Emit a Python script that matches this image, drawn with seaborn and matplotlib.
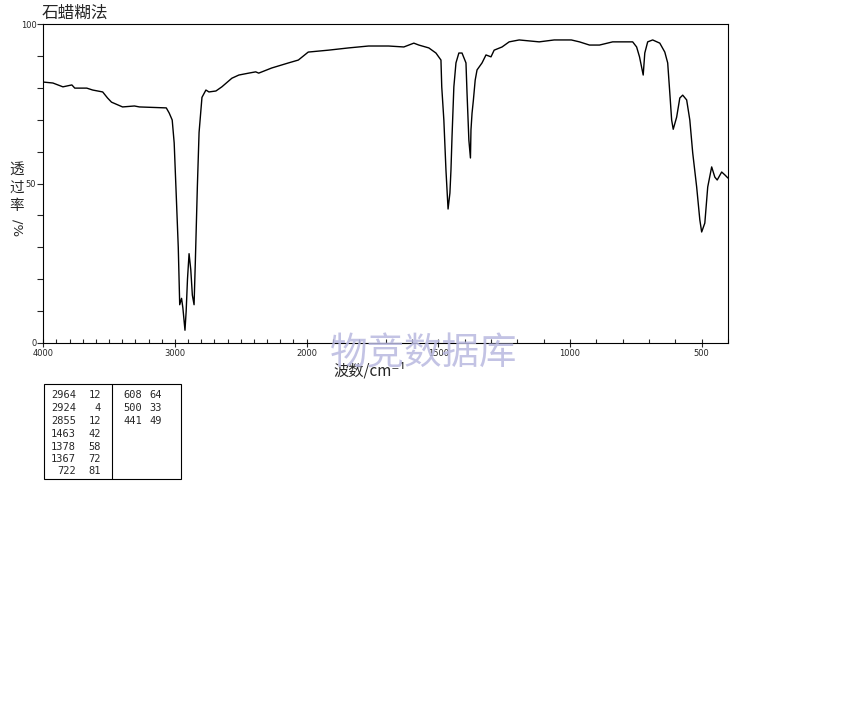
import numpy as np
import pandas as pd
import seaborn as sns
from matplotlib import pyplot as plt
from matplotlib.patches import Rectangle
from matplotlib.lines import Line2D
from matplotlib.ticker import FixedLocator, NullFormatter

# IR spectrum (paraffin mull)
wavenumber = [4000, 3927, 3851, 3783, 3761, 3670, 3625, 3549, 3512, 3482,
              3398, 3308, 3270, 3066, 3044, 3021, 3006, 2991, 2975, 2964,
              2950, 2940, 2924, 2915, 2905, 2893, 2880, 2868, 2855, 2845,
              2830, 2817, 2795, 2765, 2742, 2689, 2644, 2568, 2515, 2440,
              2387, 2364, 2266, 2138, 2063, 1994, 1917, 1841, 1765, 1689,
              1631, 1593, 1574, 1536, 1509, 1490, 1487, 1479, 1471, 1463,
              1456, 1452, 1448, 1441, 1433, 1422, 1410, 1395, 1391, 1384,
              1378, 1376, 1372, 1367, 1360, 1353, 1334, 1319, 1300, 1288,
              1258, 1231, 1193, 1117, 1060, 995, 964, 926, 888, 838,
              762, 747, 736, 722, 716, 705, 686, 659, 640, 629,
              621, 614, 608, 595, 583, 572, 557, 545, 534, 519,
              507, 500, 488, 477, 462, 450, 441, 424, 412, 400]
transmittance = [81.8, 81.5, 80.3, 80.9, 79.9, 79.9, 79.3, 78.7, 76.8, 75.5,
                 74.0, 74.3, 74.0, 73.7, 72.1, 69.9, 62.7, 47.0, 30.0, 12.0,
                 14.0, 11.0, 4.0, 10.0, 20.0, 28.0, 23.0, 15.0, 12.0, 26.0,
                 49.0, 66.0, 77.0, 79.3, 78.7, 79.0, 80.3, 83.0, 84.0, 84.6,
                 85.0, 84.6, 86.2, 87.8, 88.7, 91.2, 91.8, 92.5, 93.1, 93.1,
                 92.8, 94.0, 93.4, 92.5, 90.9, 88.7, 80.3, 69.9, 54.2, 42.0,
                 47.0, 54.2, 64.6, 80.3, 87.8, 90.9, 90.9, 87.8, 78.4, 63.6,
                 58.0, 66.8, 72.0, 76.0, 82.4, 85.6, 87.8, 90.3, 89.7, 91.8,
                 92.8, 94.4, 95.0, 94.4, 95.0, 95.0, 94.4, 93.4, 93.4, 94.4,
                 94.4, 92.8, 89.7, 84.0, 90.9, 94.4, 95.0, 94.0, 91.2, 87.8,
                 78.4, 69.9, 67.0, 70.8, 76.8, 77.7, 76.2, 69.9, 59.6, 48.9,
                 38.6, 34.8, 37.6, 48.9, 55.2, 52.0, 51.1, 53.6, 52.7, 51.7]

# peak table
peak_wn_left = ['2964', '2924', '2855', '1463', '1378', '1367', '722']
peak_t_left = ['12', '4', '12', '42', '58', '72', '81']
peak_wn_right = ['608', '500', '441']
peak_t_right = ['64', '33', '49']

title = '石蜡糊法'
x_label = '波数/cm⁻¹'
watermark = '物竞数据库'

x_major = [4000, 3000, 2000, 1500, 1000, 500]
y_major = [0, 50, 100]

W, H = 850, 709


def fx(x):
    return x / W


def fy(y):
    return 1 - y / H


# wavenumber axis: 4000-2000 squeezed to half scale
def fwd(x):
    x = np.asarray(x, dtype=float)
    return np.where(x <= 2000, x, 2000 + (x - 2000) / 2)


def inv(x):
    x = np.asarray(x, dtype=float)
    return np.where(x <= 2000, x, 2000 + (x - 2000) * 2)


sns.set_style('white')
plt.rcParams['font.family'] = ['Noto Sans CJK SC', 'DejaVu Sans']

fig = plt.figure(figsize=(W / 100, H / 100), dpi=100)
ax = fig.add_axes([fx(43.3), fy(343), (728 - 43.3) / W, (343 - 24) / H])

df = pd.DataFrame({'wn': wavenumber, 't': transmittance})
sns.lineplot(data=df, x='wn', y='t', ax=ax, color='black', lw=1.0)

ax.set_xscale('function', functions=(fwd, inv))
ax.set_xlim(4000, 400)
ax.set_ylim(0, 100)

ax.xaxis.set_major_locator(FixedLocator(x_major))
ax.xaxis.set_minor_locator(FixedLocator([v for v in range(400, 4000, 100) if v not in x_major]))
ax.set_xticklabels([str(v) for v in x_major])
ax.xaxis.set_minor_formatter(NullFormatter())
ax.yaxis.set_major_locator(FixedLocator(y_major))
ax.yaxis.set_minor_locator(FixedLocator([v for v in range(10, 100, 10) if v != 50]))
ax.set_yticklabels([str(v) for v in y_major])

ax.tick_params(axis='x', which='major', direction='inout', length=6, width=0.8,
               labelsize=6, pad=1, bottom=True)
ax.tick_params(axis='x', which='minor', direction='in', length=3, width=0.8, bottom=True)
ax.tick_params(axis='y', which='both', direction='out', length=4, width=0.8,
               labelsize=6, pad=1, left=True)
for lab in ax.get_xticklabels() + ax.get_yticklabels():
    lab.set_family('DejaVu Sans')

for s in ax.spines.values():
    s.set_visible(True)
    s.set_color('black')
    s.set_linewidth(0.8)
ax.set_xlabel('')
ax.set_ylabel('')
ax.grid(False)

# title
fig.text(fx(42), fy(13), title, fontsize=12, ha='left', va='center')

# vertical y label
for ch, yy in zip('透过率', [170, 188, 206]):
    fig.text(fx(17), fy(yy), ch, fontsize=10.5, ha='center', va='center')
fig.text(fx(17), fy(228), '/%', fontsize=9.5, ha='center', va='center',
         rotation=-90, family='DejaVu Sans')

# x label
fig.text(fx(370), fy(371), x_label, fontsize=11, ha='center', va='center')

# watermark
fig.text(fx(424), fy(354), watermark, fontsize=27, ha='center', va='center',
         color='#b9b9e0', alpha=0.85, zorder=10)

# peak table
fig.patches.append(Rectangle((fx(44), fy(479)), (181 - 44) / W, (479 - 384) / H,
                             transform=fig.transFigure, fill=False,
                             edgecolor='black', lw=0.8))
fig.lines.append(Line2D([fx(112), fx(112)], [fy(384), fy(479)],
                        transform=fig.transFigure, color='black', lw=0.8))
row_y = [395, 408, 421.5, 434, 446.5, 459, 471.5]
for i in range(len(peak_wn_left)):
    fig.text(fx(76), fy(row_y[i]), peak_wn_left[i], fontsize=7.5, ha='right',
             va='center', family='DejaVu Sans Mono')
    fig.text(fx(101), fy(row_y[i]), peak_t_left[i], fontsize=7.5, ha='right',
             va='center', family='DejaVu Sans Mono')
for i in range(len(peak_wn_right)):
    fig.text(fx(142), fy(row_y[i]), peak_wn_right[i], fontsize=7.5, ha='right',
             va='center', family='DejaVu Sans Mono')
    fig.text(fx(162), fy(row_y[i]), peak_t_right[i], fontsize=7.5, ha='right',
             va='center', family='DejaVu Sans Mono')

fig.savefig('out.png', dpi=100)
plt.close()
